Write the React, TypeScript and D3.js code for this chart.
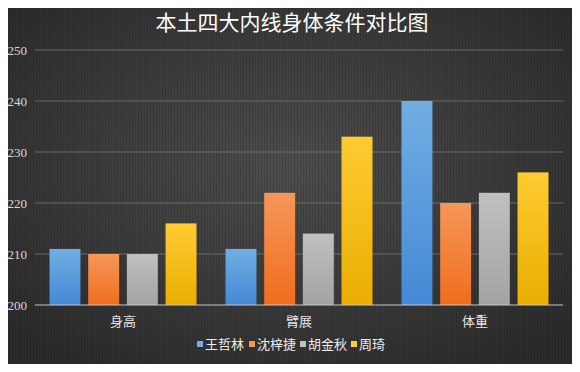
import React, { useEffect, useRef } from "react";
import * as d3 from "d3";

const categories = ["身高", "臂展", "体重"];
const players = ["王哲林", "沈梓捷", "胡金秋", "周琦"];
const values: number[][] = [
  [211, 211, 240], // 王哲林
  [210, 222, 220], // 沈梓捷
  [210, 214, 222], // 胡金秋
  [216, 233, 226], // 周琦
];
const yTicks = [200, 210, 220, 230, 240, 250];
const colorsTop = ["#72aee3", "#f6975a", "#c0c0c0", "#ffcb32"];
const colorsBottom = ["#4389d6", "#f06d1c", "#a3a3a3", "#e9ae00"];

export default function App() {
  const svgRef = useRef<SVGSVGElement>(null);

  useEffect(() => {
    const W = 580, H = 372;
    const m = { left: 35, right: 17, top: 50, bottom: 67 };
    const svg = d3.select(svgRef.current);
    svg.selectAll("*").remove();
    svg.attr("width", W).attr("height", H);

    const defs = svg.append("defs");
    const bg = defs.append("radialGradient").attr("id", "bg")
      .attr("cx", "50%").attr("cy", "45%").attr("r", "65%");
    bg.append("stop").attr("offset", "0%").attr("stop-color", "#4d4d4d");
    bg.append("stop").attr("offset", "100%").attr("stop-color", "#2b2b2b");
    const pat = defs.append("pattern").attr("id", "stripes")
      .attr("width", 3).attr("height", 4).attr("patternUnits", "userSpaceOnUse");
    pat.append("rect").attr("width", 1).attr("height", 4).attr("fill", "#000").attr("opacity", 0.12);

    players.forEach((p, i) => {
      const g = defs.append("linearGradient").attr("id", "g" + i)
        .attr("x1", 0).attr("y1", 0).attr("x2", 0).attr("y2", 1);
      g.append("stop").attr("offset", "0%").attr("stop-color", colorsTop[i]);
      g.append("stop").attr("offset", "100%").attr("stop-color", colorsBottom[i]);
    });

    svg.append("rect").attr("width", W).attr("height", H).attr("fill", "#ffffff");
    svg.append("rect").attr("width", W - 2).attr("height", H - 3).attr("fill", "url(#bg)");
    svg.append("rect").attr("width", W - 2).attr("height", H - 3).attr("fill", "url(#stripes)");

    svg.append("text")
      .attr("x", W / 2 + 2).attr("y", 30)
      .attr("text-anchor", "middle")
      .attr("font-family", "'Noto Sans CJK SC'")
      .attr("font-size", 21)
      .attr("fill", "#ffffff")
      .text("本土四大内线身体条件对比图");

    const x0 = d3.scaleBand().domain(categories)
      .range([m.left, W - m.right]).paddingInner(0).paddingOuter(0);
    const x1 = d3.scaleBand().domain(players)
      .range([0, x0.bandwidth()]).paddingInner(0.2).paddingOuter(0.375);
    const y = d3.scaleLinear().domain([200, 250]).range([H - m.bottom, m.top]);

    // grid
    svg.append("g").selectAll("line").data(yTicks.slice(1)).enter().append("line")
      .attr("x1", m.left).attr("x2", W - m.right)
      .attr("y1", d => y(d)).attr("y2", d => y(d))
      .attr("stroke", "#6a6a6a").attr("stroke-width", 1);

    const yAxis = svg.append("g")
      .attr("transform", `translate(${m.left},0)`)
      .call(d3.axisLeft(y).tickValues(yTicks).tickSize(0).tickPadding(8));
    yAxis.select(".domain").remove();
    yAxis.selectAll("text")
      .attr("fill", "#d9d9d9").attr("font-size", 13)
      .attr("font-family", "'Liberation Serif', serif");

    // bars
    categories.forEach((c, ci) => {
      players.forEach((p, pi) => {
        svg.append("rect")
          .attr("x", (x0(c) as number) + (x1(p) as number))
          .attr("y", y(values[pi][ci]))
          .attr("width", x1.bandwidth())
          .attr("height", y(200) - y(values[pi][ci]))
          .attr("fill", `url(#g${pi})`);
      });
    });

    // x axis
    svg.append("line")
      .attr("x1", m.left).attr("x2", W - m.right)
      .attr("y1", y(200)).attr("y2", y(200))
      .attr("stroke", "#c8c8c8").attr("stroke-width", 1);
    const xAxis = svg.append("g")
      .attr("transform", `translate(0,${y(200)})`)
      .call(d3.axisBottom(x0).tickSize(0).tickPadding(12));
    xAxis.select(".domain").remove();
    xAxis.selectAll("text")
      .attr("fill", "#e6e6e6").attr("font-size", 13)
      .attr("font-family", "'Noto Sans CJK SC'");

    // legend
    const legendX = [197, 249, 300, 351];
    const lg = svg.append("g");
    players.forEach((p, i) => {
      lg.append("rect")
        .attr("x", legendX[i]).attr("y", 341)
        .attr("width", 6).attr("height", 6)
        .attr("fill", colorsTop[i]);
      lg.append("text")
        .attr("x", legendX[i] + 8).attr("y", 349)
        .attr("fill", "#eeeeee").attr("font-size", 13)
        .attr("font-family", "'Noto Sans CJK SC'")
        .text(p);
    });
  }, []);

  return (
    <div style={{ margin: -8 }}>
      <svg ref={svgRef} style={{ display: "block" }}></svg>
    </div>
  );
}
